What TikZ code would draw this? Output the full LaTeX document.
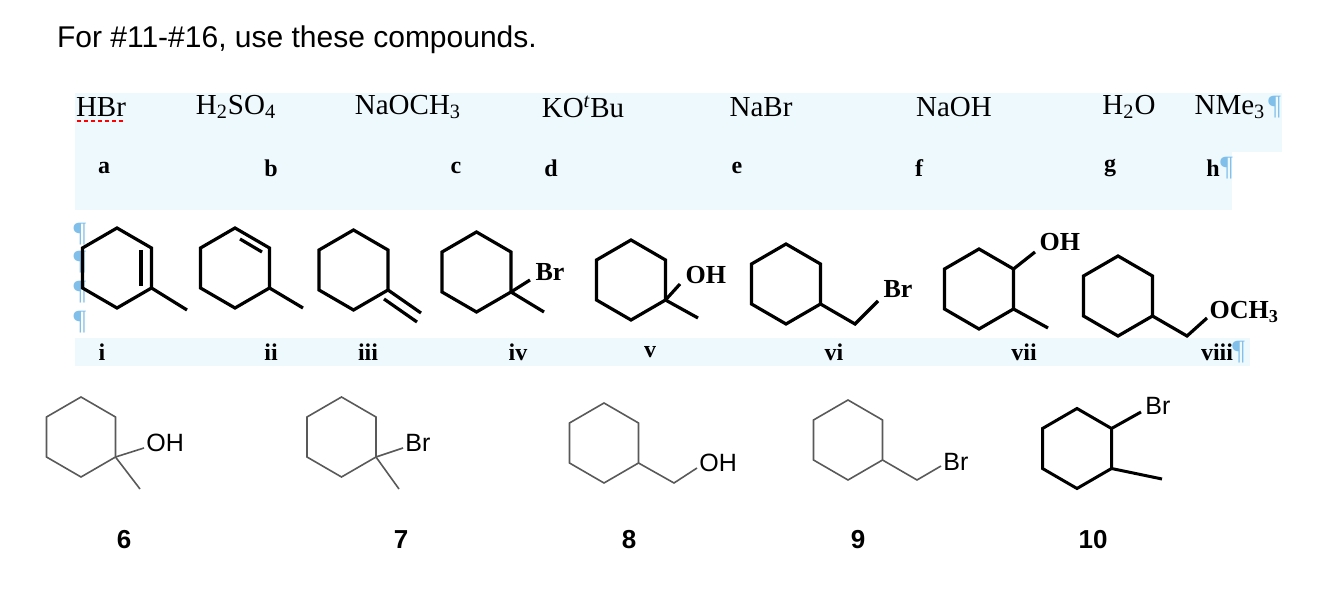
\documentclass[tikz,border=0pt]{standalone}
\usepackage{fontspec}
\setmainfont{Liberation Serif}
\newfontfamily\arial{Liberation Sans}
\definecolor{band}{HTML}{EEF9FD}
\definecolor{pilcrow}{HTML}{7FBFEA}
\newcommand\hexring[3]{%
  \coordinate (#3t) at (#1,#2-40);
  \coordinate (#3ur) at (#1+34.5,#2-20);
  \coordinate (#3lr) at (#1+34.5,#2+20);
  \coordinate (#3b) at (#1,#2+40);
  \coordinate (#3ll) at (#1-34.5,#2+20);
  \coordinate (#3ul) at (#1-34.5,#2-20);
  \draw (#3t) -- (#3ur) -- (#3lr) -- (#3b) -- (#3ll) -- (#3ul) -- cycle;}
\begin{document}
\begin{tikzpicture}[x=0.5pt,y=-0.5pt,line join=miter,
  reag/.style={font=\fontsize{14.5}{16}\selectfont},
  lett/.style={font=\fontsize{12}{14}\selectfont\bfseries},
  grp/.style={font=\fontsize{13}{14}\selectfont\bfseries, inner sep=1pt},
  agrp/.style={font=\arial\fontsize{12.5}{14}\selectfont, inner sep=1pt},
  num/.style={font=\arial\fontsize{13}{14}\selectfont\bfseries},
  pil/.style={text=pilcrow, font=\fontsize{14}{14}\selectfont, inner sep=0pt},
  top/.style={line width=1.6pt},
  bot/.style={line width=0.8pt, draw=black!65}]
\useasboundingbox (0,0) rectangle (1332,608);
% backgrounds
\fill[band] (75,93) rectangle (1282,152);
\fill[band] (75,152) rectangle (1232,210);
\fill[band] (75,338) rectangle (1250,366);
% title
\node[anchor=west, font=\arial\fontsize{15}{18}\selectfont] (title) at (50,40) {For \#11-\#16, use these compounds.};
% reagents
\node[reag] (ra) at (101,107) {HBr};
\draw[red, line width=1.2pt, dash pattern=on 2pt off 1.5pt] (77,121) -- (124,121);
\node[reag] (rb) at (236,107) {H\textsubscript{2}SO\textsubscript{4}};
\node[reag] (rc) at (408,107) {NaOCH\textsubscript{3}};
\node[reag] (rd) at (583,107) {KO\textsuperscript{\itshape t}Bu};
\node[reag] (re) at (761,107) {NaBr};
\node[reag] (rf) at (954,107) {NaOH};
\node[reag] (rg) at (1129,107) {H\textsubscript{2}O};
\node[reag] (rh) at (1230,107) {NMe\textsubscript{3}};
\node[pil, anchor=west] (p1) at (1268,107) {\P};
\node[lett] (la) at (104,168) {a};
\node[lett] (lb) at (271,168) {b};
\node[lett] (lc) at (456,168) {c};
\node[lett] (ld) at (551,168) {d};
\node[lett] (le) at (737,168) {e};
\node[lett] (lf) at (919,168) {f};
\node[lett] (lg) at (1110,168) {g};
\node[lett] (lh) at (1213,168) {h};
\node[pil, anchor=west] (p2) at (1220,168) {\P};
% pilcrows left
\node[pil] (p3) at (80,234) {\P};
\node[pil] (p4) at (80,262) {\P};
\node[pil] (p5) at (80,292) {\P};
\node[pil] (p6) at (80,322) {\P};
% top molecules
\begin{scope}[top]
\hexring{117}{268}{A}
\coordinate (Am) at (187,310);
\draw (Alr) -- (Am);
\coordinate (Ad1) at (141,250); \coordinate (Ad2) at (141,286);
\draw (Ad1) -- (Ad2);
\hexring{235}{268}{B}
\coordinate (Bm) at (303,308);
\draw (Blr) -- (Bm);
\coordinate (Bd1) at (240,239); \coordinate (Bd2) at (262,252);
\draw (Bd1) -- (Bd2);
\hexring{353.5}{270}{C}
\coordinate (Cm) at (421,313);
\coordinate (Cp1) at (384,299); \coordinate (Cp2) at (417,322);
\draw (Clr) -- (Cm);
\draw (Cp1) -- (Cp2);
\hexring{476.5}{272}{D}
\coordinate (Dx) at (530,280); \coordinate (Dm) at (544,312);
\draw (Dlr) -- (Dx); \draw (Dlr) -- (Dm);
\node[grp, anchor=west] (Dbr) at (532,272) {Br};
\hexring{631}{280}{E}
\coordinate (Ex) at (680,284); \coordinate (Em) at (698,318);
\draw (Elr) -- (Ex); \draw (Elr) -- (Em);
\node[grp, anchor=west] (Eoh) at (682,275) {OH};
\hexring{786}{284}{F}
\coordinate (Fc) at (855,324); \coordinate (Fx) at (878,301);
\draw (Flr) -- (Fc) -- (Fx);
\node[grp, anchor=west] (Fbr) at (880,289) {Br};
\hexring{979}{289}{G}
\coordinate (Gx) at (1035,252); \coordinate (Gm) at (1048,328);
\draw (Gur) -- (Gx); \draw (Glr) -- (Gm);
\node[grp, anchor=west] (Goh) at (1036,242) {OH};
\hexring{1118}{296}{H}
\coordinate (Hc) at (1187,336); \coordinate (Hx) at (1207,318);
\draw (Hlr) -- (Hc) -- (Hx);
\node[grp, anchor=west] (Hoc) at (1206,312) {OCH\textsubscript{3}};
\end{scope}
% roman labels
\node[lett] (n1) at (102,352) {i};
\node[lett] (n2) at (271,352) {ii};
\node[lett] (n3) at (368,352) {iii};
\node[lett] (n4) at (518,352) {iv};
\node[lett] (n5) at (650,352) {v};
\node[lett] (n6) at (834,352) {vi};
\node[lett] (n7) at (1024,352) {vii};
\node[lett] (n8) at (1217,352) {viii};
\node[pil, anchor=west] (p7) at (1232,352) {\P};
% bottom molecules
\begin{scope}[bot]
\hexring{81}{437}{P}
\coordinate (Px) at (144,448); \coordinate (Pm) at (140,489);
\draw (Plr) -- (Px); \draw (Plr) -- (Pm);
\hexring{341.5}{437}{Q}
\coordinate (Qx) at (403,448); \coordinate (Qm) at (399,489);
\draw (Qlr) -- (Qx); \draw (Qlr) -- (Qm);
\hexring{604}{443}{R}
\coordinate (Rc) at (674,483); \coordinate (Rx) at (697,468);
\draw (Rlr) -- (Rc) -- (Rx);
\hexring{848}{440}{S}
\coordinate (Sc) at (917,480); \coordinate (Sx) at (941,466);
\draw (Slr) -- (Sc) -- (Sx);
\end{scope}
\begin{scope}[line width=1.5pt]
\hexring{1077}{448.5}{T}
\coordinate (Tx) at (1141,412); \coordinate (Tm) at (1162,479);
\draw (Tur) -- (Tx); \draw (Tlr) -- (Tm);
\end{scope}
\node[agrp, anchor=west] (Poh) at (144,443) {OH};
\node[agrp, anchor=west] (Qbr) at (403,443) {Br};
\node[agrp, anchor=west] (Roh) at (697,463) {OH};
\node[agrp, anchor=west] (Sbr) at (941,462) {Br};
\node[agrp, anchor=west] (Tbr) at (1143,406) {Br};
\node[num] (m6) at (124,540) {6};
\node[num] (m7) at (401,540) {7};
\node[num] (m8) at (629,540) {8};
\node[num] (m9) at (858,540) {9};
\node[num] (m10) at (1093,540) {10};
\end{tikzpicture}
\end{document}
